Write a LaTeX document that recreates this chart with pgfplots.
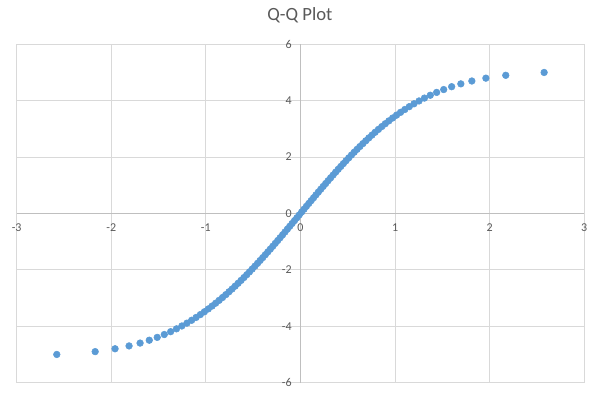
\documentclass[border=0pt]{standalone}
\usepackage{fontspec}
\setmainfont{Carlito}
\usepackage{pgfplots}
\pgfplotsset{compat=1.18}
\definecolor{ptblue}{HTML}{5B9BD5}
\definecolor{txtgray}{HTML}{595959}
\definecolor{gridgray}{HTML}{D9D9D9}
\definecolor{axgray}{HTML}{BFBFBF}
\begin{document}
\begin{tikzpicture}
\path[use as bounding box] (-12.5pt,-10pt) rectangle (437.5pt,287pt);
\begin{axis}[
  at={(0,0)}, anchor=south west,
  scale only axis, width=425.7pt, height=253.8pt,
  xmin=-3, xmax=3, ymin=-6, ymax=6,
  axis lines=middle,
  axis line style={-, axgray, line width=0.75pt},
  xtick={-3,-2,...,3}, ytick={-6,-4,...,6},
  grid=major, grid style={gridgray, line width=0.75pt},
  major tick length=0pt,
  hide obscured x ticks=false, hide obscured y ticks=false,
  /pgf/number format/assume math mode=true,
  tick label style={font=\fontsize{9}{11}\selectfont, text=txtgray},
  xticklabel style={anchor=north, yshift=-4pt},
  yticklabel style={anchor=east, xshift=-3pt},
  clip=false,
]
\addplot[only marks, mark=*, mark size=2.5pt, mark options={draw=ptblue, fill=ptblue}] coordinates {
(-2.57583,-5.000) (-2.17009,-4.899) (-1.95996,-4.798) (-1.81191,-4.697) (-1.69540,-4.596)
(-1.59819,-4.495) (-1.51410,-4.394) (-1.43953,-4.293) (-1.37220,-4.192) (-1.31058,-4.091)
(-1.25357,-3.990) (-1.20036,-3.889) (-1.15035,-3.788) (-1.10306,-3.687) (-1.05812,-3.586)
(-1.01522,-3.485) (-0.97411,-3.384) (-0.93459,-3.283) (-0.89647,-3.182) (-0.85961,-3.081)
(-0.82389,-2.980) (-0.78919,-2.879) (-0.75542,-2.778) (-0.72248,-2.677) (-0.69031,-2.576)
(-0.65884,-2.475) (-0.62801,-2.374) (-0.59776,-2.273) (-0.56805,-2.172) (-0.53884,-2.071)
(-0.51007,-1.970) (-0.48173,-1.869) (-0.45376,-1.768) (-0.42615,-1.667) (-0.39886,-1.566)
(-0.37186,-1.465) (-0.34513,-1.364) (-0.31864,-1.263) (-0.29237,-1.162) (-0.26631,-1.061)
(-0.24043,-0.960) (-0.21470,-0.859) (-0.18912,-0.758) (-0.16365,-0.657) (-0.13830,-0.556)
(-0.11304,-0.455) (-0.08784,-0.354) (-0.06271,-0.253) (-0.03760,-0.152) (-0.01253,-0.051)
(0.01253,0.051) (0.03760,0.152) (0.06271,0.253) (0.08784,0.354) (0.11304,0.455)
(0.13830,0.556) (0.16365,0.657) (0.18912,0.758) (0.21470,0.859) (0.24043,0.960)
(0.26631,1.061) (0.29237,1.162) (0.31864,1.263) (0.34513,1.364) (0.37186,1.465)
(0.39886,1.566) (0.42615,1.667) (0.45376,1.768) (0.48173,1.869) (0.51007,1.970)
(0.53884,2.071) (0.56805,2.172) (0.59776,2.273) (0.62801,2.374) (0.65884,2.475)
(0.69031,2.576) (0.72248,2.677) (0.75542,2.778) (0.78919,2.879) (0.82389,2.980)
(0.85961,3.081) (0.89647,3.182) (0.93459,3.283) (0.97411,3.384) (1.01522,3.485)
(1.05812,3.586) (1.10306,3.687) (1.15035,3.788) (1.20036,3.889) (1.25357,3.990)
(1.31058,4.091) (1.37220,4.192) (1.43953,4.293) (1.51410,4.394) (1.59819,4.495)
(1.69540,4.596) (1.81191,4.697) (1.95996,4.798) (2.17009,4.899) (2.57583,5.000)
};
\node[font=\fontsize{14}{16}\selectfont, text=txtgray] at (rel axis cs:0.499,1.0866) {Q-Q Plot};
\end{axis}
\end{tikzpicture}
\end{document}
